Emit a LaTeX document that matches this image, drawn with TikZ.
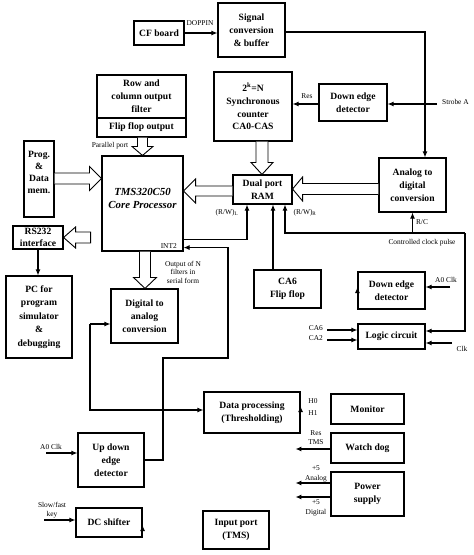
\documentclass[tikz,border=0pt]{standalone}
\usepackage{fontspec}
\setmainfont{Liberation Serif}
\usetikzlibrary{calc,arrows.meta}
\newcommand{\myhollow}[5]{%
  \coordinate (hb) at ($(#2)!#5!(#1)$);
  \draw[hol] ($(#1)!#3!90:(#2)$) -- ($(hb)!#3!90:(#2)$) -- ($(hb)!#4!90:(#2)$) -- (#2)
    -- ($(hb)!#4!-90:(#2)$) -- ($(hb)!#3!-90:(#2)$) -- ($(#1)!#3!-90:(#2)$);}
\newcommand{\myhollowc}[5]{%
  \coordinate (hb) at ($(#2)!#5!(#1)$);
  \draw[hol] ($(#1)!#3!90:(#2)$) -- ($(hb)!#3!90:(#2)$) -- ($(hb)!#4!90:(#2)$) -- (#2)
    -- ($(hb)!#4!-90:(#2)$) -- ($(hb)!#3!-90:(#2)$) -- ($(#1)!#3!-90:(#2)$) -- cycle;}
\begin{document}
\begin{tikzpicture}[x=1pt,y=-1pt,
  box/.style={draw, line width=1.1pt, align=center, inner sep=0.5pt,
    font=\bfseries\fontsize{9.6}{12.8}\selectfont},
  lbl/.style={font=\fontsize{7.4}{8.5}\selectfont, inner sep=0},
  con/.style={line width=1.1pt},
  arr/.style={con, -{Latex[length=6pt,width=5pt]}},
  hol/.style={line width=0.9pt, fill=white, line join=miter}]
\useasboundingbox (0,0) rectangle (474,555);
\fill[white] (0,0) rectangle (474,555);

% boxes
\node[box,minimum width=50pt,minimum height=24pt] (cf) at (159,33) {CF board};
\node[box,minimum width=67pt,minimum height=54pt] (sig) at (251.5,30) {Signal\\conversion\\\& buffer};
\node[box,minimum width=89pt,minimum height=43pt] (rcf) at (141.5,96.5) {Row and\\column output\\filter};
\node[box,minimum width=89pt,minimum height=19pt] (ffo) at (141.5,127.5) {Flip flop output};
\node[box,minimum width=78pt,minimum height=69pt] (cnt) at (253,106.5) {2\textsuperscript{k}=N\\Synchronous\\counter\\CA0-CAS};
\node[box,minimum width=68pt,minimum height=37pt] (ded1) at (353,102.5) {Down edge\\detector};
\node[box,minimum width=67pt,minimum height=54pt] (adc) at (412.5,185) {Analog to\\digital\\conversion};
\node[box,minimum width=59pt,minimum height=29pt] (ram) at (262.5,189.5) {Dual port\\RAM};
\node[box,minimum width=81pt,minimum height=95pt] (tms) at (142.5,203.5) {};
\node[font=\bfseries\itshape\fontsize{10.8}{13.3}\selectfont,align=center,inner sep=0] (tmst) at (142.5,198.5) {TMS320C50\\Core Processor};
\node[box,minimum width=30pt,minimum height=76pt] (pdm) at (39,179) {};
\node[font=\bfseries\fontsize{9.6}{12}\selectfont,align=center,inner sep=0] (pdmt) at (39,172) {Prog.\\\&\\Data\\mem.};
\node[box,minimum width=50pt,minimum height=23pt,font=\bfseries\fontsize{9.6}{12.5}\selectfont] (rs) at (38,237.5) {RS232\\interface};
\node[box,minimum width=66pt,minimum height=82pt,font=\bfseries\fontsize{9.6}{13.5}\selectfont] (pc) at (39,317) {PC for\\program\\simulator\\\&\\debugging};
\node[box,minimum width=67pt,minimum height=54pt] (dac) at (144.5,316) {Digital to\\analog\\conversion};
\node[box,minimum width=67pt,minimum height=38pt] (ca6) at (287.5,289) {CA6\\Flip flop};
\node[box,minimum width=67pt,minimum height=37pt] (ded2) at (391.5,290.5) {Down edge\\detector};
\node[box,minimum width=67pt,minimum height=25pt] (logic) at (391.5,336.5) {Logic circuit};
\node[box,minimum width=96pt,minimum height=41pt] (dp) at (252,412.5) {Data processing\\(Thresholding)};
\node[box,minimum width=73pt,minimum height=30pt] (mon) at (367.5,409) {Monitor};
\node[box,minimum width=73pt,minimum height=30pt] (wd) at (367.5,448) {Watch dog};
\node[box,minimum width=73pt,minimum height=44pt] (pw) at (367.5,494) {Power\\supply};
\node[box,minimum width=66pt,minimum height=54pt] (udd) at (111,460) {Up down\\edge\\detector};
\node[box,minimum width=66pt,minimum height=29pt] (dc) at (109,522.5) {DC shifter};
\node[box,minimum width=66pt,minimum height=38pt] (inp) at (236,530) {Input port\\(TMS)};

% hollow arrows
\coordinate (h1b) at ($(ram.north)+(-0.5,0)$);
\coordinate (h1a) at (h1b |- cnt.south);
\myhollow{h1a}{h1b}{6pt}{11pt}{12pt}
\coordinate (h2b) at (tms.north);
\coordinate (h2a) at (tms.north |- ffo.south);
\myhollow{h2a}{h2b}{5pt}{10.5pt}{9pt}
\coordinate (h3a) at ($(pdm.east)+(0,-0.5)$);
\coordinate (h3b) at (h3a -| tms.west);
\myhollow{h3a}{h3b}{5.5pt}{12pt}{12pt}
\coordinate (h4b) at (rs.east);
\coordinate (h4a) at ($(rs.east)+(27,0)$);
\myhollowc{h4a}{h4b}{5.5pt}{10.5pt}{12pt}
\coordinate (h5a) at ($(ram.west)+(0,1.5)$);
\coordinate (h5b) at (h5a -| tms.east);
\myhollow{h5a}{h5b}{5pt}{12pt}{12pt}
\coordinate (h6a) at ($(adc.west)+(0,4)$);
\coordinate (h6b) at (h6a -| ram.east);
\myhollow{h6a}{h6b}{5.5pt}{12pt}{10pt}
\coordinate (h7a) at ($(tms.south)+(2.5,0)$);
\coordinate (h7b) at (h7a |- dac.north);
\myhollow{h7a}{h7b}{5.5pt}{11.5pt}{11pt}

% connectors
\draw[arr] (cf.east) -- (cf.east -| sig.west);
\node[lbl] (ldop) at (200,23) {DOPPIN};
\coordinate (adcin) at ($(adc.north)+(12.5,0)$);
\draw[arr] ($(sig.east)+(0,2)$) -| (adcin);
\coordinate (stb) at (437,104);
\draw[arr] (stb) -- (stb -| ded1.east);
\node[lbl,anchor=west] (lstb) at (442,102) {Strobe A};
\draw[arr] (ded1.west |- stb) -- (cnt.east |- stb);
\node[lbl] (lres) at (307,96) {Res};
\node[lbl] (lpp) at (110,146) {Parallel port};

\draw[arr] (rs.south) -- (rs.south |- pc.north);

\coordinate (rwl) at ($(ram.south)+(-15.5,0)$);
\draw[arr] ($(tms.south east)+(0,-12)$) -| (rwl);
\node[lbl] (lrwl) at (227,213) {(R/W)\textsubscript{L}};
\coordinate (c6t) at ($(ca6.north)+(-14.5,0)$);
\draw[arr] (c6t) -- (c6t |- ram.south);

\coordinate (rwr) at ($(ram.south)+(22.5,0)$);
\coordinate (cR) at (465,233);
\coordinate (cL) at (rwr |- cR);
\draw[arr] (cR) -- (cL) -- (rwr);
\draw[arr] (cR) |- ($(logic.east)+(0,-5.5)$);
\draw[arr] (adc.south |- cR) -- (adc.south);
\node[lbl] (lrwr) at (305,213) {(R/W)\textsubscript{R}};
\node[lbl] (lrc) at (422,222) {R/C};
\node[lbl] (lccp) at (422,243) {Controlled clock pulse};

\draw[arr] ($(ded2.west)+(0,-3.5)$) -- ($(ded2.west)+(0,-3.5)$ -| ca6.east);
\coordinate (a0r) at (450,287);
\draw[arr] (a0r) -- (a0r -| ded2.east);
\node[lbl] (la0r) at (446,280) {A0 Clk};
\coordinate (ca6in) at (327,330);
\draw[arr] (ca6in) -- (ca6in -| logic.west);
\node[lbl,anchor=east] (lca6) at (323,328.5) {CA6};
\coordinate (ca2in) at (327,340);
\draw[arr] (ca2in) -- (ca2in -| logic.west);
\node[lbl,anchor=east] (lca2) at (323,338) {CA2};
\coordinate (clk) at (452,343);
\draw[arr] (clk) -- (clk -| logic.east);
\node[lbl] (lclk) at (462,349) {Clk};

\coordinate (i1) at (163,358);
\coordinate (i2) at (228,358);
\draw[arr] (udd.east) -| (i1) -- (i2) |- ($(tms.south east)+(0,-4)$);
\node[lbl,anchor=east] (lint) at (177,246) {INT2};
\node[lbl,align=center] (lout) at (183,272) {Output of N\\filters in\\serial form};

\coordinate (dj1) at (90,324);
\coordinate (dj2) at (90,410);
\draw[arr] (dj1) -- (dj1 -| dac.west);
\draw[arr] (dj1) -- (dj2) -- (dj2 -| dp.west);

\draw[arr] ($(dp.east)+(0,-6.5)$) -- ($(dp.east)+(0,-6.5)$ -| mon.west);
\node[lbl] (lh0) at (313,401) {H0};
\node[lbl] (lh1) at (313,413) {H1};
\draw[arr] ($(wd.west)+(0,1)$) -- ++(-35,0) coordinate (wdo);
\node[lbl] (lwres) at (316,433) {Res};
\node[lbl] (lwtms) at (316,442) {TMS};
\draw[arr] ($(pw.west)+(0,-11)$) -- ++(-35,0) coordinate (pwa);
\draw[arr] ($(pw.west)+(0,3)$) -- ++(-35,0) coordinate (pwd);
\node[lbl] (lp1) at (316,468) {+5};
\node[lbl] (lp2) at (316,478.5) {Analog};
\node[lbl] (lp3) at (316,502) {+5};
\node[lbl] (lp4) at (316,513) {Digital};

\coordinate (a0l) at (46,453);
\draw[arr] (a0l) -- (a0l -| udd.west);
\node[lbl] (la0l) at (51,447) {A0 Clk};
\coordinate (sf) at (44,520);
\draw[arr] (sf) -- (sf -| dc.west);
\node[lbl,align=center] (lsf) at (52,510) {Slow/fast\\key};
\draw[arr] ($(dc.east)+(0,2.5)$) -- ($(dc.east)+(0,2.5)$ -| inp.west);
\end{tikzpicture}
\end{document}
